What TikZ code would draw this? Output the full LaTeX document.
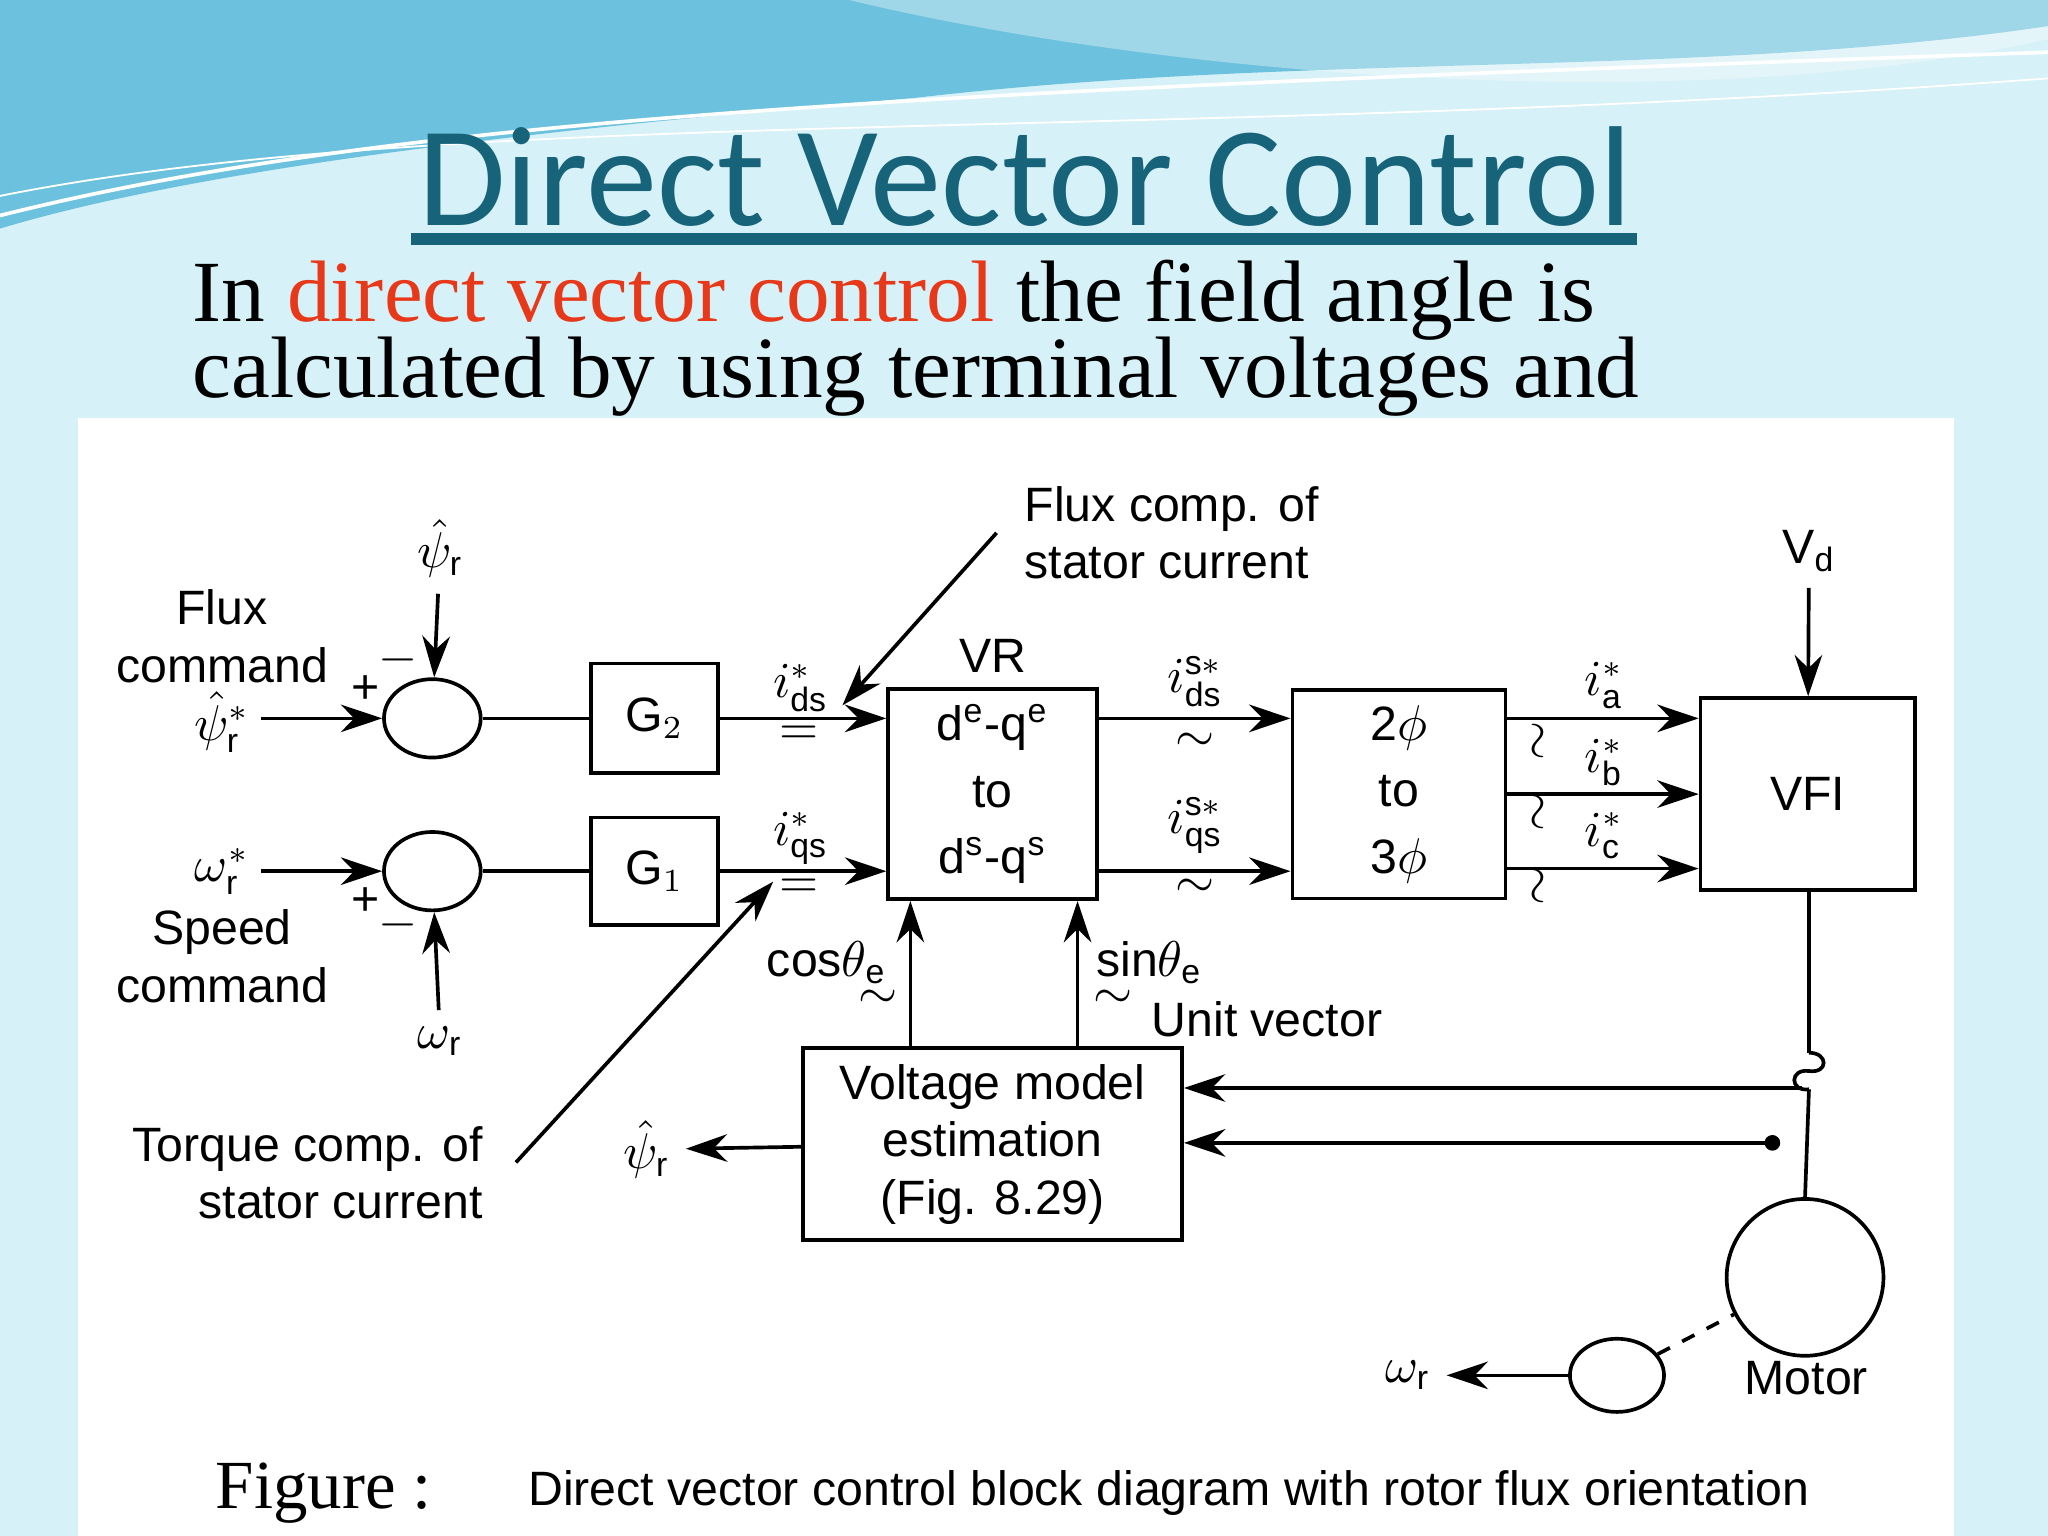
\documentclass[tikz,border=0pt]{standalone}
\usepackage{fontspec}
\setmainfont{Liberation Sans}
\newfontfamily\titlef{Carlito}
\newfontfamily\serif{Liberation Serif}
\usetikzlibrary{arrows.meta,shapes.geometric}
\definecolor{bg}{HTML}{D6F1F7}
\definecolor{wave}{HTML}{6CC2DE}
\definecolor{titlec}{HTML}{17637A}
\definecolor{redt}{HTML}{E8381A}
\begin{document}
\begin{tikzpicture}[x=0.01cm,y=-0.01cm,
  sum/.style={draw,thick,ellipse,minimum width=0.74cm,minimum height=0.6cm,inner sep=0},
  arr/.style={thick,-{Stealth[length=9pt,width=6pt]}},
  ln/.style={thick},
  every node/.style={font=\fontsize{10.5}{12.5}\selectfont}]
\useasboundingbox (0,0) rectangle (1568,1176);
\fill[bg] (0,0) rectangle (1568,1176);
\fill[wave] (0,0) -- (1568,0) -- (1568,20) .. controls (1300,60) and (1000,40) .. (700,75) .. controls (400,100) and (150,130) .. (0,175) -- cycle;
\fill[white,opacity=0.35] (650,0) .. controls (900,60) and (1300,90) .. (1568,30) -- (1568,0) -- cycle;
\draw[white,thick] (0,165) .. controls (300,90) and (700,70) .. (1568,40);
\draw[white] (0,150) .. controls (350,80) and (900,110) .. (1568,60);
\node[font=\titlef\fontsize{31}{36}\selectfont,text=titlec] (title) at (785,135) {Direct Vector Control};
\draw[titlec,line width=2.5pt] (315,183) -- (1253,183);
\node[anchor=west,font=\serif\fontsize{19}{22}\selectfont] (t1) at (135,230) {In \textcolor{redt}{direct vector control} the field angle is};
\node[anchor=west,font=\serif\fontsize{19}{22}\selectfont] (t2) at (135,288) {calculated by using terminal voltages and};
\fill[white] (60,320) rectangle (1496,1176);
% blocks
\node[sum] (s1) at (331,550) {};
\node[sum] (s2) at (331,667) {};
\node[draw,thick,minimum width=0.97cm,minimum height=0.84cm] (g2) at (501,550) {G$_2$};
\node[draw,thick,minimum width=0.97cm,minimum height=0.82cm] (g1) at (501,667) {G$_1$};
\node[draw,thick,minimum width=1.6cm,minimum height=1.47cm,align=center] (vr) at (760,608) {d$^{\mathrm e}$-q$^{\mathrm e}$\\[2pt]to\\[2pt]d$^{\mathrm s}$-q$^{\mathrm s}$};
\node (vrl) at (760,502) {VR};
\node[draw,thick,minimum width=1.63cm,minimum height=1.47cm,align=center] (p) at (1071,608) {2$\phi$\\[2pt]to\\[2pt]3$\phi$};
\node[draw,thick,minimum width=1.64cm,minimum height=1.47cm] (vfi) at (1384,608) {VFI};
\node[draw,thick,minimum width=2.9cm,minimum height=1.47cm,align=center] (vm) at (760,876) {Voltage model\\estimation\\(Fig. 8.29)};
\node[draw,thick,circle,minimum size=1.2cm] (mot) at (1382,978) {};
\node[draw,thick,ellipse,minimum width=0.72cm,minimum height=0.56cm] (tach) at (1238,1053) {};
\node (motl) at (1383,1055) {Motor};
% inputs
\node[align=center] (fc) at (170,487) {Flux\\command};
\node (psis) at (170,553) {$\hat\psi_{\mathrm r}^\ast$};
\coordinate (fin) at (200,550);
\draw[arr] (fin) -- (s1);
\node (psi1) at (337,420) {$\hat\psi_{\mathrm r}$};
\draw[arr] (psi1) -- (s1);
\node (p1) at (280,528) {+};
\node (m1) at (305,505) {$-$};
\node (ws) at (170,667) {$\omega_{\mathrm r}^\ast$};
\coordinate (win) at (200,667);
\draw[arr] (win) -- (s2);
\node[align=center] (sc) at (170,732) {Speed\\command};
\node (wr1) at (337,797) {$\omega_{\mathrm r}$};
\draw[arr] (wr1) -- (s2);
\node (p2) at (280,690) {+};
\node (m2) at (305,708) {$-$};
\draw[ln] (s1) -- (g2);
\draw[ln] (s2) -- (g1);
\draw[arr] (g2.east) -- (vr.west |- g2.east);
\draw[arr] (g1.east) -- (vr.west |- g1.east);
\node (ids) at (613,527) {$i_{\mathrm{ds}}^\ast$};
\node (eq1) at (612,563) {$=$};
\node (iqs) at (613,642) {$i_{\mathrm{qs}}^\ast$};
\node (eq2) at (612,680) {$=$};
% VR to 2phi
\coordinate (a1) at (840,550);\coordinate (a2) at (840,667);
\draw[arr] (a1) -- (a1 -| p.west);
\draw[arr] (a2) -- (a2 -| p.west);
\node (idss) at (915,522) {$i_{\mathrm{ds}}^{\mathrm{s}\ast}$};
\node (t1a) at (915,568) {$\sim$};
\node (iqss) at (915,632) {$i_{\mathrm{qs}}^{\mathrm{s}\ast}$};
\node (t1b) at (915,680) {$\sim$};
% 2phi to VFI
\foreach \y/\n in {550/a,608/b,665/c}{
  \coordinate (o\n) at (1153,\y);
  \draw[arr] (o\n) -- (o\n -| vfi.west);}
\node (ia) at (1228,525) {$i_{\mathrm a}^\ast$};
\node (ib) at (1228,584) {$i_{\mathrm b}^\ast$};
\node (ic) at (1228,640) {$i_{\mathrm c}^\ast$};
\node[rotate=90] (ta) at (1180,567) {$\sim$};
\node[rotate=90] (tb) at (1180,622) {$\sim$};
\node[rotate=90] (tc) at (1180,678) {$\sim$};
\node (vd) at (1385,422) {V$_{\mathrm d}$};
\draw[arr] (vd) -- (vfi);
% motor feed
\coordinate (c0) at (1385,682);
\coordinate (c1) at (1385,806);
\coordinate (c2) at (1385,834);
\draw[ln] (c0) -- (c1);
\draw[ln] (c1) .. controls (1400,806) and (1400,822) .. (1385,820) .. controls (1370,818) and (1370,836) .. (1385,834);
\draw[ln] (c2) -- (mot.north);
\coordinate (f1) at (1380,833);
\draw[arr] (f1) -- (vm.east |- f1);
\coordinate (dot) at (1357,875);
\fill (dot) circle (6);
\draw[arr] (dot) -- (vm.east |- dot);
\node (psiout) at (495,880) {$\hat\psi_{\mathrm r}$};
\draw[arr] (vm.west |- 0,878) -- (psiout);
\draw[arr] (vm.north -| 697,0) -- (vr.south -| 697,0);
\draw[arr] (vm.north -| 825,0) -- (vr.south -| 825,0);
\node (cos) at (633,737) {cos$\theta_{\mathrm e}$};
\node (tcos) at (672,765) {$\sim$};
\node (sin) at (880,737) {sin$\theta_{\mathrm e}$};
\node (tsin) at (852,765) {$\sim$};
\node (uv) at (970,780) {Unit vector};
% annotations
\node[align=left,anchor=west] (fcomp) at (772,408) {Flux comp. of\\stator current};
\coordinate (fl) at (763,408);
\coordinate (flt) at (645,540);
\draw[ln,-{Stealth[length=9pt,width=6pt]}] (fl) -- (flt);
\node[align=right,anchor=east] (tcomp) at (382,898) {Torque comp. of\\stator current};
\coordinate (tl) at (395,890);
\coordinate (tlt) at (592,675);
\draw[ln,-{Stealth[length=9pt,width=6pt]}] (tl) -- (tlt);
% tach
\draw[thick,dashed] (tach) -- (mot);
\node (wr2) at (1078,1053) {$\omega_{\mathrm r}$};
\draw[arr] (tach) -- (wr2);
% caption
\node[font=\serif\fontsize{15}{18}\selectfont] (fig) at (248,1143) {Figure :};
\node (cap) at (895,1143) {Direct vector control block diagram with rotor flux orientation};
\end{tikzpicture}
\end{document}
